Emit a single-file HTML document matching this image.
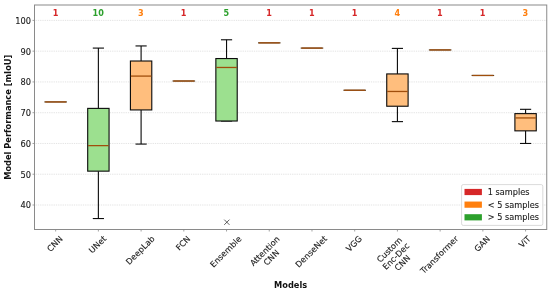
<!DOCTYPE html>
<html><head><meta charset="utf-8"><title>Model Performance</title>
<style>html,body{margin:0;padding:0;background:#fff}body{width:550px;height:291px;overflow:hidden}</style></head>
<body>
<svg width="550" height="291" viewBox="0 0 550 291" style="display:block;font-family:'DejaVu Sans','Liberation Sans',sans-serif;font-size:8.25px">
<rect width="550" height="291" fill="#fff"/>
<line x1="34.5" x2="546.75" y1="205.00" y2="205.00" stroke="#cdcdcd" stroke-width="0.7" stroke-dasharray="0.8 1.0"/>
<line x1="34.5" x2="546.75" y1="174.23" y2="174.23" stroke="#cdcdcd" stroke-width="0.7" stroke-dasharray="0.8 1.0"/>
<line x1="34.5" x2="546.75" y1="143.47" y2="143.47" stroke="#cdcdcd" stroke-width="0.7" stroke-dasharray="0.8 1.0"/>
<line x1="34.5" x2="546.75" y1="112.70" y2="112.70" stroke="#cdcdcd" stroke-width="0.7" stroke-dasharray="0.8 1.0"/>
<line x1="34.5" x2="546.75" y1="81.93" y2="81.93" stroke="#cdcdcd" stroke-width="0.7" stroke-dasharray="0.8 1.0"/>
<line x1="34.5" x2="546.75" y1="51.17" y2="51.17" stroke="#cdcdcd" stroke-width="0.7" stroke-dasharray="0.8 1.0"/>
<line x1="34.5" x2="546.75" y1="20.40" y2="20.40" stroke="#cdcdcd" stroke-width="0.7" stroke-dasharray="0.8 1.0"/>
<line x1="44.38" x2="66.94" y1="101.93" y2="101.93" stroke="#5a3a1a" stroke-width="1.2"/>
<line x1="45.28" x2="66.04" y1="101.93" y2="101.93" stroke="#a04e0c" stroke-width="1.2"/>
<line x1="98.38" x2="98.38" y1="108.39" y2="48.09" stroke="#0c0c0c" stroke-width="1.12"/>
<line x1="98.38" x2="98.38" y1="171.16" y2="218.54" stroke="#0c0c0c" stroke-width="1.12"/>
<line x1="92.79" x2="103.97" y1="48.09" y2="48.09" stroke="#0c0c0c" stroke-width="1.12"/>
<line x1="92.79" x2="103.97" y1="218.54" y2="218.54" stroke="#0c0c0c" stroke-width="1.12"/>
<rect x="87.70" y="108.39" width="21.36" height="62.76" fill="#98df8a" fill-opacity="0.96" stroke="#0c0c0c" stroke-width="1.12"/>
<line x1="88.10" x2="108.66" y1="145.62" y2="145.62" stroke="#a04e0c" stroke-width="1.3"/>
<line x1="141.10" x2="141.10" y1="61.01" y2="45.94" stroke="#0c0c0c" stroke-width="1.12"/>
<line x1="141.10" x2="141.10" y1="109.93" y2="144.08" stroke="#0c0c0c" stroke-width="1.12"/>
<line x1="135.51" x2="146.69" y1="45.94" y2="45.94" stroke="#0c0c0c" stroke-width="1.12"/>
<line x1="135.51" x2="146.69" y1="144.08" y2="144.08" stroke="#0c0c0c" stroke-width="1.12"/>
<rect x="130.42" y="61.01" width="21.36" height="48.92" fill="#ffbb78" fill-opacity="0.96" stroke="#0c0c0c" stroke-width="1.12"/>
<line x1="130.82" x2="151.38" y1="76.09" y2="76.09" stroke="#a04e0c" stroke-width="1.3"/>
<line x1="172.54" x2="195.10" y1="81.01" y2="81.01" stroke="#5a3a1a" stroke-width="1.2"/>
<line x1="173.44" x2="194.20" y1="81.01" y2="81.01" stroke="#a04e0c" stroke-width="1.2"/>
<line x1="226.54" x2="226.54" y1="58.55" y2="39.78" stroke="#0c0c0c" stroke-width="1.12"/>
<line x1="226.54" x2="226.54" y1="121.01" y2="121.01" stroke="#0c0c0c" stroke-width="1.12"/>
<line x1="220.95" x2="232.13" y1="39.78" y2="39.78" stroke="#0c0c0c" stroke-width="1.12"/>
<line x1="220.95" x2="232.13" y1="121.01" y2="121.01" stroke="#0c0c0c" stroke-width="1.12"/>
<rect x="215.86" y="58.55" width="21.36" height="62.46" fill="#98df8a" fill-opacity="0.96" stroke="#0c0c0c" stroke-width="1.12"/>
<line x1="216.26" x2="236.82" y1="67.47" y2="67.47" stroke="#a04e0c" stroke-width="1.3"/>
<path d="M224.24 219.63L229.44 224.83M224.24 224.83L229.44 219.63" stroke="#2a2a2a" stroke-width="0.75" fill="none"/>
<line x1="257.98" x2="280.54" y1="42.86" y2="42.86" stroke="#5a3a1a" stroke-width="1.2"/>
<line x1="258.88" x2="279.64" y1="42.86" y2="42.86" stroke="#a04e0c" stroke-width="1.2"/>
<line x1="300.70" x2="323.26" y1="48.09" y2="48.09" stroke="#5a3a1a" stroke-width="1.2"/>
<line x1="301.60" x2="322.36" y1="48.09" y2="48.09" stroke="#a04e0c" stroke-width="1.2"/>
<line x1="343.42" x2="365.98" y1="90.24" y2="90.24" stroke="#5a3a1a" stroke-width="1.2"/>
<line x1="344.32" x2="365.08" y1="90.24" y2="90.24" stroke="#a04e0c" stroke-width="1.2"/>
<line x1="397.42" x2="397.42" y1="73.93" y2="48.40" stroke="#0c0c0c" stroke-width="1.12"/>
<line x1="397.42" x2="397.42" y1="106.24" y2="121.62" stroke="#0c0c0c" stroke-width="1.12"/>
<line x1="391.83" x2="403.01" y1="48.40" y2="48.40" stroke="#0c0c0c" stroke-width="1.12"/>
<line x1="391.83" x2="403.01" y1="121.62" y2="121.62" stroke="#0c0c0c" stroke-width="1.12"/>
<rect x="386.74" y="73.93" width="21.36" height="32.30" fill="#ffbb78" fill-opacity="0.96" stroke="#0c0c0c" stroke-width="1.12"/>
<line x1="387.14" x2="407.70" y1="91.47" y2="91.47" stroke="#a04e0c" stroke-width="1.3"/>
<line x1="428.86" x2="451.42" y1="49.94" y2="49.94" stroke="#5a3a1a" stroke-width="1.2"/>
<line x1="429.76" x2="450.52" y1="49.94" y2="49.94" stroke="#a04e0c" stroke-width="1.2"/>
<line x1="471.58" x2="494.14" y1="75.47" y2="75.47" stroke="#5a3a1a" stroke-width="1.2"/>
<line x1="472.48" x2="493.24" y1="75.47" y2="75.47" stroke="#a04e0c" stroke-width="1.2"/>
<line x1="525.58" x2="525.58" y1="113.62" y2="109.32" stroke="#0c0c0c" stroke-width="1.12"/>
<line x1="525.58" x2="525.58" y1="130.85" y2="143.47" stroke="#0c0c0c" stroke-width="1.12"/>
<line x1="519.99" x2="531.17" y1="109.32" y2="109.32" stroke="#0c0c0c" stroke-width="1.12"/>
<line x1="519.99" x2="531.17" y1="143.47" y2="143.47" stroke="#0c0c0c" stroke-width="1.12"/>
<rect x="514.90" y="113.62" width="21.36" height="17.23" fill="#ffbb78" fill-opacity="0.96" stroke="#0c0c0c" stroke-width="1.12"/>
<line x1="515.30" x2="535.86" y1="117.93" y2="117.93" stroke="#a04e0c" stroke-width="1.3"/>
<rect x="34.5" y="5.0" width="512.25" height="224.5" fill="none" stroke="#8a8a8a" stroke-width="1"/>
<line x1="32.5" x2="34.5" y1="205.00" y2="205.00" stroke="#8a8a8a" stroke-width="0.8"/>
<text x="30.90" y="208.36" text-anchor="end" fill="#1a1a1a" stroke="#1a1a1a" stroke-width="0.12">40</text>
<line x1="32.5" x2="34.5" y1="174.23" y2="174.23" stroke="#8a8a8a" stroke-width="0.8"/>
<text x="30.90" y="177.59" text-anchor="end" fill="#1a1a1a" stroke="#1a1a1a" stroke-width="0.12">50</text>
<line x1="32.5" x2="34.5" y1="143.47" y2="143.47" stroke="#8a8a8a" stroke-width="0.8"/>
<text x="30.90" y="146.83" text-anchor="end" fill="#1a1a1a" stroke="#1a1a1a" stroke-width="0.12">60</text>
<line x1="32.5" x2="34.5" y1="112.70" y2="112.70" stroke="#8a8a8a" stroke-width="0.8"/>
<text x="30.90" y="116.06" text-anchor="end" fill="#1a1a1a" stroke="#1a1a1a" stroke-width="0.12">70</text>
<line x1="32.5" x2="34.5" y1="81.93" y2="81.93" stroke="#8a8a8a" stroke-width="0.8"/>
<text x="30.90" y="85.29" text-anchor="end" fill="#1a1a1a" stroke="#1a1a1a" stroke-width="0.12">80</text>
<line x1="32.5" x2="34.5" y1="51.17" y2="51.17" stroke="#8a8a8a" stroke-width="0.8"/>
<text x="30.90" y="54.53" text-anchor="end" fill="#1a1a1a" stroke="#1a1a1a" stroke-width="0.12">90</text>
<line x1="32.5" x2="34.5" y1="20.40" y2="20.40" stroke="#8a8a8a" stroke-width="0.8"/>
<text x="30.90" y="23.76" text-anchor="end" fill="#1a1a1a" stroke="#1a1a1a" stroke-width="0.12">100</text>
<line x1="55.66" x2="55.66" y1="229.5" y2="231.5" stroke="#8a8a8a" stroke-width="0.8"/>
<line x1="98.38" x2="98.38" y1="229.5" y2="231.5" stroke="#8a8a8a" stroke-width="0.8"/>
<line x1="141.10" x2="141.10" y1="229.5" y2="231.5" stroke="#8a8a8a" stroke-width="0.8"/>
<line x1="183.82" x2="183.82" y1="229.5" y2="231.5" stroke="#8a8a8a" stroke-width="0.8"/>
<line x1="226.54" x2="226.54" y1="229.5" y2="231.5" stroke="#8a8a8a" stroke-width="0.8"/>
<line x1="269.26" x2="269.26" y1="229.5" y2="231.5" stroke="#8a8a8a" stroke-width="0.8"/>
<line x1="311.98" x2="311.98" y1="229.5" y2="231.5" stroke="#8a8a8a" stroke-width="0.8"/>
<line x1="354.70" x2="354.70" y1="229.5" y2="231.5" stroke="#8a8a8a" stroke-width="0.8"/>
<line x1="397.42" x2="397.42" y1="229.5" y2="231.5" stroke="#8a8a8a" stroke-width="0.8"/>
<line x1="440.14" x2="440.14" y1="229.5" y2="231.5" stroke="#8a8a8a" stroke-width="0.8"/>
<line x1="482.86" x2="482.86" y1="229.5" y2="231.5" stroke="#8a8a8a" stroke-width="0.8"/>
<line x1="525.58" x2="525.58" y1="229.5" y2="231.5" stroke="#8a8a8a" stroke-width="0.8"/>
<text x="55.46" y="15.7" text-anchor="middle" font-weight="bold" font-size="8.1" fill="#d62728">1</text>
<text x="98.18" y="15.7" text-anchor="middle" font-weight="bold" font-size="8.1" fill="#2ca02c">10</text>
<text x="140.90" y="15.7" text-anchor="middle" font-weight="bold" font-size="8.1" fill="#ff7f0e">3</text>
<text x="183.62" y="15.7" text-anchor="middle" font-weight="bold" font-size="8.1" fill="#d62728">1</text>
<text x="226.34" y="15.7" text-anchor="middle" font-weight="bold" font-size="8.1" fill="#2ca02c">5</text>
<text x="269.06" y="15.7" text-anchor="middle" font-weight="bold" font-size="8.1" fill="#d62728">1</text>
<text x="311.78" y="15.7" text-anchor="middle" font-weight="bold" font-size="8.1" fill="#d62728">1</text>
<text x="354.50" y="15.7" text-anchor="middle" font-weight="bold" font-size="8.1" fill="#d62728">1</text>
<text x="397.22" y="15.7" text-anchor="middle" font-weight="bold" font-size="8.1" fill="#ff7f0e">4</text>
<text x="439.94" y="15.7" text-anchor="middle" font-weight="bold" font-size="8.1" fill="#d62728">1</text>
<text x="482.66" y="15.7" text-anchor="middle" font-weight="bold" font-size="8.1" fill="#d62728">1</text>
<text x="525.38" y="15.7" text-anchor="middle" font-weight="bold" font-size="8.1" fill="#ff7f0e">3</text>
<text transform="translate(56.87,245.73) rotate(-45)" text-anchor="middle" fill="#1a1a1a" stroke="#1a1a1a" stroke-width="0.12">CNN</text>
<text transform="translate(99.59,246.58) rotate(-45)" text-anchor="middle" fill="#1a1a1a" stroke="#1a1a1a" stroke-width="0.12">UNet</text>
<text transform="translate(142.31,252.28) rotate(-45)" text-anchor="middle" fill="#1a1a1a" stroke="#1a1a1a" stroke-width="0.12">DeepLab</text>
<text transform="translate(185.03,245.22) rotate(-45)" text-anchor="middle" fill="#1a1a1a" stroke="#1a1a1a" stroke-width="0.12">FCN</text>
<text transform="translate(227.75,253.63) rotate(-45)" text-anchor="middle" fill="#1a1a1a" stroke="#1a1a1a" stroke-width="0.12">Ensemble</text>
<text transform="translate(266.85,253.04) rotate(-45)" text-anchor="middle" fill="#1a1a1a" stroke="#1a1a1a" stroke-width="0.12">Attention</text>
<text transform="translate(273.38,259.57) rotate(-45)" text-anchor="middle" fill="#1a1a1a" stroke="#1a1a1a" stroke-width="0.12">CNN</text>
<text transform="translate(313.19,253.65) rotate(-45)" text-anchor="middle" fill="#1a1a1a" stroke="#1a1a1a" stroke-width="0.12">DenseNet</text>
<text transform="translate(355.91,245.84) rotate(-45)" text-anchor="middle" fill="#1a1a1a" stroke="#1a1a1a" stroke-width="0.12">VGG</text>
<text transform="translate(391.40,251.82) rotate(-45)" text-anchor="middle" fill="#1a1a1a" stroke="#1a1a1a" stroke-width="0.12">Custom</text>
<text transform="translate(397.93,258.35) rotate(-45)" text-anchor="middle" fill="#1a1a1a" stroke="#1a1a1a" stroke-width="0.12">Enc-Dec</text>
<text transform="translate(404.45,264.87) rotate(-45)" text-anchor="middle" fill="#1a1a1a" stroke="#1a1a1a" stroke-width="0.12">CNN</text>
<text transform="translate(441.35,256.83) rotate(-45)" text-anchor="middle" fill="#1a1a1a" stroke="#1a1a1a" stroke-width="0.12">Transformer</text>
<text transform="translate(484.07,245.77) rotate(-45)" text-anchor="middle" fill="#1a1a1a" stroke="#1a1a1a" stroke-width="0.12">GAN</text>
<text transform="translate(526.79,243.85) rotate(-45)" text-anchor="middle" fill="#1a1a1a" stroke="#1a1a1a" stroke-width="0.12">ViT</text>
<text x="290.62" y="287.8" text-anchor="middle" font-weight="bold" fill="#111">Models</text>
<text transform="translate(10.6,117.25) rotate(-90)" text-anchor="middle" font-weight="bold" fill="#111">Model Performance [mIoU]</text>
<rect x="461.6" y="184.6" width="81.19999999999993" height="40.80000000000001" rx="1.6" fill="#fff" fill-opacity="0.8" stroke="#d0d0d0" stroke-width="0.8"/>
<rect x="464.5" y="188.90" width="17.4" height="6.2" fill="#d62728"/>
<text x="487.8" y="194.90" font-size="8.17" fill="#1a1a1a" stroke="#1a1a1a" stroke-width="0.12">1 samples</text>
<rect x="464.5" y="201.55" width="17.4" height="6.2" fill="#ff7f0e"/>
<text x="487.8" y="207.55" font-size="8.17" fill="#1a1a1a" stroke="#1a1a1a" stroke-width="0.12">&lt; 5 samples</text>
<rect x="464.5" y="214.20" width="17.4" height="6.2" fill="#2ca02c"/>
<text x="487.8" y="220.20" font-size="8.17" fill="#1a1a1a" stroke="#1a1a1a" stroke-width="0.12">&gt; 5 samples</text>
</svg>
</body></html>
